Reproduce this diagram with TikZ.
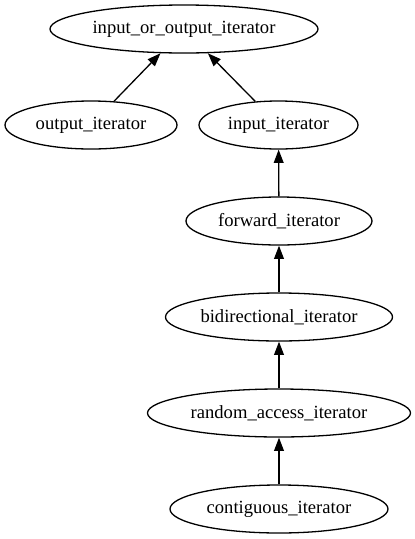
\documentclass[tikz,border=0pt]{standalone}
\usepackage{fontspec}
\setmainfont{Liberation Serif}
\usetikzlibrary{shapes.geometric,arrows.meta}
\tikzset{
  gnode/.style={draw=black, ellipse, line width=1.3pt, inner sep=0pt, minimum height=48pt,
    font=\fontsize{18.6}{22}\selectfont},
  gedge/.style={draw=black, line width=1.3pt, -{Triangle[length=13.3pt,width=9.8pt]}}
}
\begin{document}
\begin{tikzpicture}[x=1pt,y=-1pt]
\useasboundingbox (0,0) rectangle (415,539);
\node[gnode, minimum width=268pt] (io) at (184,29) {input\_or\_output\_iterator};
\node[gnode, minimum width=172pt] (out) at (91,125) {output\_iterator};
\node[gnode, minimum width=159pt] (in) at (278.5,125) {input\_iterator};
\node[gnode, minimum width=186pt] (fw) at (279,221) {forward\_iterator};
\node[gnode, minimum width=227pt] (bi) at (279,317) {bidirectional\_iterator};
\node[gnode, minimum width=263pt] (ra) at (279,413) {random\_access\_iterator};
\node[gnode, minimum width=218pt] (co) at (279,509) {contiguous\_iterator};
\draw[gedge] (out) -- (io);
\draw[gedge] (in) -- (io);
\draw[gedge] (fw) -- (in);
\draw[gedge] (bi) -- (fw);
\draw[gedge] (ra) -- (bi);
\draw[gedge] (co) -- (ra);
\end{tikzpicture}
\end{document}
